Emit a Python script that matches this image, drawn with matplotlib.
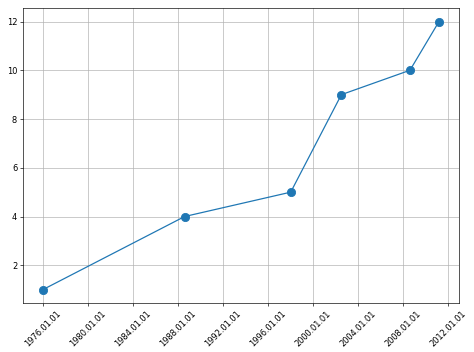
import datetime as dt
import matplotlib
matplotlib.use("Agg")
import matplotlib.pyplot as plt
import matplotlib.dates as mdates

dates = ["1976-01-01", "1988-08-01", "1998-01-01", "2002-07-01", "2008-08-01", "2011-03-01"]
values = [1, 4, 5, 9, 10, 12]

X = [dt.datetime.strptime(d, "%Y-%m-%d") for d in dates]

# drawn at 8x6-ish inches and low dpi so it comes out at 474x352
dpi = 59.25
fig, ax = plt.subplots(figsize=(474 / dpi, 352 / dpi), dpi=dpi)
ax.plot(X, values, '-o', color='#1f77b4', lw=1.5, markersize=10)
ax.xaxis.set_major_locator(mdates.YearLocator(4))
ax.xaxis.set_major_formatter(mdates.DateFormatter('%Y.%m.%d'))
plt.setp(ax.get_xticklabels(), rotation=45)
ax.grid(True)
fig.subplots_adjust(left=0.0485, right=0.968, top=0.977, bottom=0.139)
fig.savefig("out.png", dpi=dpi)
